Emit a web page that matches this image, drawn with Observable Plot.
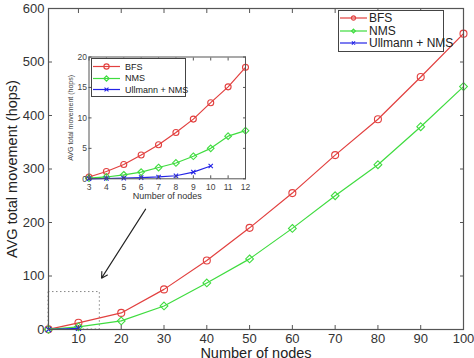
<!DOCTYPE html>
<html>
<head>
<meta charset="utf-8">
<script src="https://cdn.jsdelivr.net/npm/d3@7"></script>
<script src="https://cdn.jsdelivr.net/npm/@observablehq/plot@0.6"></script>
<style>
  html, body { margin: 0; padding: 0; background: #fff; }
  #wrap { position: relative; width: 474px; height: 358px; overflow: hidden; font-family: "Liberation Sans", Arial, sans-serif; }
  #main, #inset { position: absolute; }
  #main { left: 0; top: 0; }
  #inset { left: 60px; top: 48px; }
  .legend { position: absolute; background: #fff; border: 1px solid #444; box-sizing: border-box; }
  .legend .row { position: absolute; left: 0; display: flex; align-items: center; white-space: nowrap; color: #222; }
  .legend svg { display: block; }
</style>
</head>
<body>
<div id="wrap">
  <div id="main"></div>
  <div id="inset"></div>
  <div id="legMain" class="legend" style="left:338px;top:10px;width:106px;height:42px;"></div>
  <div id="legInset" class="legend" style="left:91px;top:58px;width:95px;height:39px;"></div>
</div>
<script>
// ---- main chart data ----
const mainNodes = [3, 10, 20, 30, 40, 50, 60, 70, 80, 90, 100];
const mainBFS = [0.3, 12.5, 31, 75, 129, 190, 255, 326, 393, 472, 553];
const mainNMS = [0.1, 5, 16, 44, 87, 132, 189, 250, 308, 379, 454];
const mainUllNodes = [3, 10];
const mainUll = [0, 2.1];
const mainXTicks = [10, 20, 30, 40, 50, 60, 70, 80, 90, 100];
const mainYTicks = [0, 100, 200, 300, 400, 500, 600];

// ---- inset data ----
const insetNodes = [3, 4, 5, 6, 7, 8, 9, 10, 11, 12];
const insetBFS = [0.3, 1.2, 2.35, 3.9, 5.6, 7.6, 9.8, 12.5, 15.1, 18.3];
const insetNMS = [0.1, 0.3, 0.65, 1.1, 1.85, 2.6, 3.7, 5.0, 7.0, 7.9];
const insetUllNodes = [3, 4, 5, 6, 7, 8, 9, 10];
const insetUll = [0, 0.05, 0.1, 0.2, 0.3, 0.5, 1.1, 2.1];
const insetXTicks = [3, 4, 5, 6, 7, 8, 9, 10, 11, 12];
const insetYTicks = [0, 5, 10, 15, 20];

// ---- annotations ----
const zoomBox = [{x1: 3, x2: 15, y1: 0, y2: 70}];
const zoomArrow = [{x1: 25.7, y1: 225, x2: 15.4, y2: 96}];

const seriesNames = ["BFS", "NMS", "Ullmann + NMS"];
const colors = {"BFS": "#e2403f", "NMS": "#3fdc3f", "Ullmann + NMS": "#2424e6"};
const symbols = {"BFS": "circle", "NMS": "diamond2", "Ullmann + NMS": "times"};

function rows(xs, ys, s) { return xs.map((x, i) => ({x, y: ys[i], s})); }

const mainData = [
  ...rows(mainNodes, mainBFS, "BFS"),
  ...rows(mainNodes, mainNMS, "NMS"),
  ...rows(mainUllNodes, mainUll, "Ullmann + NMS")
];
const insetData = [
  ...rows(insetNodes, insetBFS, "BFS"),
  ...rows(insetNodes, insetNMS, "NMS"),
  ...rows(insetUllNodes, insetUll, "Ullmann + NMS")
];

function seriesMarks(data, r, sw) {
  const marks = [];
  for (const s of seriesNames) {
    const d = data.filter(e => e.s === s);
    marks.push(Plot.line(d, {x: "x", y: "y", stroke: colors[s], strokeWidth: sw}));
    marks.push(Plot.dot(d, {x: "x", y: "y", stroke: colors[s], symbol: symbols[s], r: s === "Ullmann + NMS" ? r * 0.7 : r, strokeWidth: 1.1, fill: "none"}));
  }
  return marks;
}

const mainPlot = Plot.plot({
  width: 474, height: 358,
  marginLeft: 48, marginRight: 11, marginTop: 8, marginBottom: 29,
  style: {fontFamily: "Liberation Sans, Arial, sans-serif", background: "transparent", overflow: "visible"},
  x: {domain: [3, 100]},
  y: {domain: [0, 600]},
  marks: [
    Plot.rect(zoomBox, {x1: "x1", x2: "x2", y1: "y1", y2: "y2", fill: "none", stroke: "#888", strokeDasharray: "1.5,2.5"}),
    Plot.arrow(zoomArrow, {x1: "x1", y1: "y1", x2: "x2", y2: "y2", stroke: "#222", strokeWidth: 1.1, headLength: 9}),
    ...seriesMarks(mainData, 3.5, 1.2),
    Plot.axisX(mainXTicks, {anchor: "bottom", tickSize: -4, tickPadding: 8, fontSize: 13, fill: "#333", stroke: "#555", label: null}),
    Plot.axisX(mainXTicks, {anchor: "top", tickSize: -4, tickFormat: () => "", stroke: "#555", label: null}),
    Plot.axisY(mainYTicks, {anchor: "left", tickSize: -4, tickPadding: 8, fontSize: 13, fill: "#333", stroke: "#555", label: null}),
    Plot.axisY(mainYTicks, {anchor: "right", tickSize: -4, tickFormat: () => "", stroke: "#555", label: null}),
    Plot.frame({stroke: "#555", strokeWidth: 1.2}),
    Plot.text(["Number of nodes"], {frameAnchor: "bottom", lineAnchor: "middle", textAnchor: "middle", dy: 24, fontSize: 14.5, fill: "#222"}),
    Plot.text(["AVG total movement (hops)"], {frameAnchor: "left", lineAnchor: "middle", textAnchor: "middle", dx: -36, rotate: -90, fontSize: 14.5, fill: "#222"})
  ]
});
document.getElementById("main").appendChild(mainPlot);

const insetPlot = Plot.plot({
  width: 195, height: 155,
  marginLeft: 28.5, marginRight: 10, marginTop: 8.5, marginBottom: 24.7,
  style: {fontFamily: "Liberation Sans, Arial, sans-serif", background: "#fff", overflow: "visible"},
  x: {domain: [3, 12]},
  y: {domain: [0, 20]},
  marks: [
    ...seriesMarks(insetData, 3, 1.2),
    Plot.axisX(insetXTicks, {anchor: "bottom", tickSize: -3, tickPadding: 8, fontSize: 8.5, fill: "#444", stroke: "#555", label: null}),
    Plot.axisX(insetXTicks, {anchor: "top", tickSize: -3, tickFormat: () => "", stroke: "#555", label: null}),
    Plot.axisY(insetYTicks, {anchor: "left", tickSize: -3, tickPadding: 5, fontSize: 8.5, fill: "#444", stroke: "#555", label: null}),
    Plot.axisY(insetYTicks, {anchor: "right", tickSize: -3, tickFormat: () => "", stroke: "#555", label: null}),
    Plot.frame({stroke: "#555"}),
    Plot.text(["Number of nodes"], {frameAnchor: "bottom", lineAnchor: "middle", textAnchor: "middle", dy: 17, fontSize: 9, fill: "#333"}),
    Plot.text(["AVG total movement (hops)"], {frameAnchor: "left", lineAnchor: "middle", textAnchor: "middle", dx: -18, rotate: -90, fontSize: 7, fill: "#444"})
  ]
});
document.getElementById("inset").appendChild(insetPlot);

function buildLegend(id, opts) {
  const el = document.getElementById(id);
  seriesNames.forEach((s, i) => {
    const row = document.createElement("div");
    row.className = "row";
    row.style.top = (opts.top + i * opts.gap) + "px";
    row.style.height = opts.h + "px";
    row.style.left = opts.left + "px";
    row.style.fontSize = opts.fs + "px";
    const svg = d3.create("svg").attr("width", opts.lw).attr("height", opts.h);
    svg.append("line").attr("x1", 0).attr("x2", opts.lw).attr("y1", opts.h / 2).attr("y2", opts.h / 2)
      .attr("stroke", colors[s]).attr("stroke-width", 1.2);
    const sym = {"circle": d3.symbolCircle, "diamond2": d3.symbolDiamond2, "times": d3.symbolTimes}[symbols[s]];
    const size = opts.sym[i];
    svg.append("path").attr("d", d3.symbol(sym, size)()).attr("transform", `translate(${opts.lw / 2},${opts.h / 2})`)
      .attr("fill", "none").attr("stroke", colors[s]).attr("stroke-width", 1.1);
    row.appendChild(svg.node());
    const t = document.createElement("span");
    t.textContent = s;
    t.style.marginLeft = opts.tm + "px";
    row.appendChild(t);
    el.appendChild(row);
  });
}
buildLegend("legMain", {top: 1, gap: 12.7, h: 12, left: 1, lw: 27, fs: 12, tm: 2, sym: [14, 10, 8]});
buildLegend("legInset", {top: 2, gap: 11.5, h: 11, left: 1, lw: 27, fs: 9, tm: 5, sym: [22, 18, 12]});
</script>
</body>
</html>
